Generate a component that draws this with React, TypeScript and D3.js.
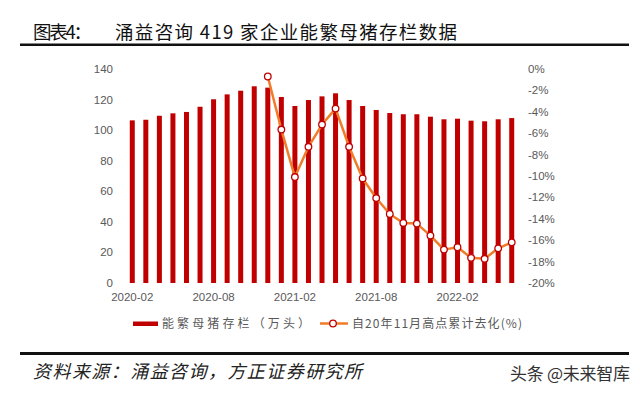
import React from "react";
import * as d3 from "d3";

const months: string[] = [
  "2020-02","2020-03","2020-04","2020-05","2020-06","2020-07","2020-08","2020-09","2020-10","2020-11",
  "2020-12","2021-01","2021-02","2021-03","2021-04","2021-05","2021-06","2021-07","2021-08","2021-09",
  "2021-10","2021-11","2021-12","2022-01","2022-02","2022-03","2022-04","2022-05","2022-06",
];
const sowStock: number[] = [
  106.4, 106.8, 109.4, 111.0, 111.9, 115.3, 120.2, 123.4, 125.8, 128.7,
  127.8, 121.7, 115.8, 119.7, 122.1, 124.1, 119.7, 115.8, 113.2, 111.2,
  110.4, 110.4, 108.8, 107.1, 107.5, 106.2, 105.8, 107.1, 107.9,
];
const cumDecline: (number | null)[] = [
  null, null, null, null, null, null, null, null, null, null,
  -0.7, -5.66, -10.1, -7.27, -5.19, -3.7, -7.27, -10.23, -12.06, -13.55,
  -14.39, -14.45, -15.57, -16.88, -16.66, -17.65, -17.74, -16.76, -16.2,
];
const leftTicks: number[] = [0, 20, 40, 60, 80, 100, 120, 140];
const rightTicks: number[] = [0, -2, -4, -6, -8, -10, -12, -14, -16, -18, -20];
const xTickLabels: string[] = ["2020-02", "2020-08", "2021-02", "2021-08", "2022-02"];

const titleLabel = "图表4：";
const titleMain = "涌益咨询 419 家企业能繁母猪存栏数据";
const source = "资料来源：涌益咨询，方正证券研究所";
const watermark = "头条 @未来智库";
const legendBar = "能繁母猪存栏（万头）";
const legendLine = "自20年11月高点累计去化(%)";

const W = 640, H = 396;
const barColor = "#C00000";
const lineColor = "#F07C2A";
const tickColor = "#595959";
const sans = "'Liberation Sans', Arial, sans-serif";
const cjk = "'Noto Sans CJK SC', sans-serif";

export default function App() {
  const x = d3.scalePoint<string>().domain(months).range([125.5, 518.5]).padding(0.5);
  const yL = d3.scaleLinear().domain([0, 140]).range([283, 69]);
  const yR = d3.scaleLinear().domain([-20, 0]).range([283, 69]);
  const barW = 5;

  const lineData = months
    .map((m, i) => ({ m, v: cumDecline[i] }))
    .filter((d) => d.v !== null) as { m: string; v: number }[];
  const line = d3
    .line<{ m: string; v: number }>()
    .x((d) => x(d.m) as number)
    .y((d) => yR(d.v));

  return (
    <svg
      width={W}
      height={H}
      style={{ position: "absolute", left: 0, top: 0, background: "#fff" }}
    >
      <rect x={0} y={0} width={W} height={H} fill="#fff" />
      <text x={33} y={39} fontFamily={cjk} fontSize={18.5} fill="#111" textLength={59} lengthAdjust="spacing">
        {titleLabel}
      </text>
      <text x={115} y={39} fontFamily={cjk} fontSize={18.5} fill="#111" textLength={342} lengthAdjust="spacing">
        {titleMain}
      </text>
      <rect x={20} y={43.5} width={609} height={2.5} fill="#111" />

      {leftTicks.map((t) => (
        <text key={"l" + t} x={113} y={yL(t) + 4} textAnchor="end" fontFamily={sans} fontSize={11.5} fill={tickColor}>
          {t}
        </text>
      ))}
      {rightTicks.map((t) => (
        <text key={"r" + t} x={528} y={yR(t) + 4} textAnchor="start" fontFamily={sans} fontSize={11.5} fill={tickColor}>
          {t + "%"}
        </text>
      ))}
      {xTickLabels.map((m) => (
        <text key={"x" + m} x={x(m) as number} y={301} textAnchor="middle" fontFamily={sans} fontSize={11.5} fill={tickColor}>
          {m}
        </text>
      ))}

      {months.map((m, i) => (
        <rect
          key={"b" + m}
          x={(x(m) as number) - barW / 2}
          y={yL(sowStock[i])}
          width={barW}
          height={yL(0) - yL(sowStock[i])}
          fill={barColor}
        />
      ))}

      <path d={line(lineData) || ""} fill="none" stroke={lineColor} strokeWidth={2.5} strokeLinejoin="round" />
      {lineData.map((d) => (
        <circle key={"c" + d.m} cx={x(d.m) as number} cy={yR(d.v)} r={3.3} fill="#fff" stroke={barColor} strokeWidth={1.3} />
      ))}

      <rect x={133} y={321.5} width={25} height={4.5} fill={barColor} />
      <text x={162} y={328} fontFamily={cjk} fontSize={12} fill={tickColor} textLength={148} lengthAdjust="spacing">
        {legendBar}
      </text>
      <line x1={320} x2={348} y1={323.5} y2={323.5} stroke={lineColor} strokeWidth={2.5} />
      <circle cx={333} cy={323.5} r={3.3} fill="#fff" stroke={barColor} strokeWidth={1.3} />
      <text x={352} y={328} fontFamily={cjk} fontSize={12} fill={tickColor} textLength={170} lengthAdjust="spacing">
        {legendLine}
      </text>

      <rect x={20} y={352} width={609} height={3} fill="#111" />
      <text x={33} y={378} fontFamily={cjk} fontSize={18} fontStyle="italic" fill="#222" textLength={329} lengthAdjust="spacing">
        {source}
      </text>
      <text x={510} y={380} fontFamily={cjk} fontSize={17} fill="#333" textLength={120} lengthAdjust="spacing">
        {watermark}
      </text>
    </svg>
  );
}
